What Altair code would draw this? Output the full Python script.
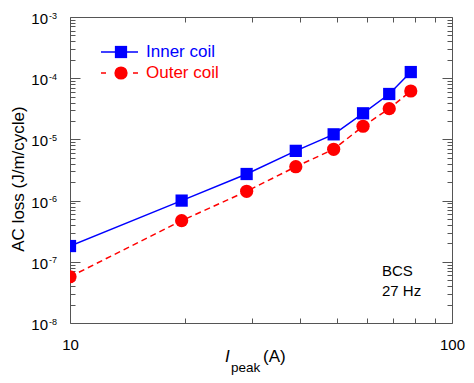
import altair as alt
import pandas as pd

# ---- data ----
current = [10, 19.6, 29, 39, 49, 58.5, 68.5, 78]
inner_loss = [1.81e-7, 1.0e-6, 2.72e-6, 6.5e-6, 1.21e-5, 2.67e-5, 5.52e-5, 1.26e-4]
outer_loss = [5.7e-8, 4.7e-7, 1.42e-6, 3.58e-6, 6.9e-6, 1.64e-5, 3.18e-5, 6.18e-5]

y_decades = [1e-8, 1e-7, 1e-6, 1e-5, 1e-4, 1e-3]
y_exponents = ['-8', '-7', '-6', '-5', '-4', '-3']
y_minor = [k * 10.0 ** e for e in range(-8, -3) for k in range(2, 10)]
x_labels = [10, 100]
x_minor = [20, 30, 40, 50, 60, 70, 80, 90]

legend_labels = ['Inner coil', 'Outer coil']
note_lines = ['BCS', '27 Hz']

FONT = 'Liberation Sans'
GRAY = '#555555'
BLUE = '#0000FF'
RED = '#FF0000'
W, H = 382, 306
SQ, CI = 150, 175

inner_df = pd.DataFrame({'current': current, 'loss': inner_loss})
outer_df = pd.DataFrame({'current': current, 'loss': outer_loss})
dec_df = pd.DataFrame({'val': y_decades, 'exp': y_exponents})

xs = alt.Scale(type='log', domain=[10, 100], nice=False)
ys = alt.Scale(type='log', domain=[1e-8, 1e-3], nice=False)


def tick_axis(orient, offset, values, size):
    return alt.Axis(orient=orient, offset=offset, values=values, tickSize=size,
                    tickColor=GRAY, tickWidth=1, labels=False, domain=False,
                    grid=False, title=None)


def tick_layer(xaxis, yaxis):
    return alt.Chart(inner_df).mark_point(opacity=0).encode(
        x=alt.X('current:Q', scale=xs, axis=xaxis),
        y=alt.Y('loss:Q', scale=ys, axis=yaxis),
    )


x_label_axis = alt.Axis(orient='bottom', values=x_labels, ticks=False, tickSize=0,
                        domain=False, grid=False, title=None, labelFontSize=15,
                        labelFont=FONT, labelColor='black', labelPadding=14,
                        labelFlush=False, labelOverlap=False, format='d')

ticks1 = tick_layer(tick_axis('top', -H, x_minor, 5), tick_axis('right', -W, y_decades, 10))
ticks2 = tick_layer(tick_axis('bottom', -H, x_minor, 5), tick_axis('right', -W, y_minor, 5))
ticks3 = tick_layer(x_label_axis, tick_axis('left', -W, y_decades, 10))
ticks4 = tick_layer(None, tick_axis('left', -W, y_minor, 5))

enc_in = dict(x=alt.X('current:Q', scale=xs, axis=None),
              y=alt.Y('loss:Q', scale=ys, axis=None))

inner_line = alt.Chart(inner_df).mark_line(color=BLUE, strokeWidth=1.5, clip=True).encode(**enc_in)
inner_pts = alt.Chart(inner_df).mark_point(shape='square', filled=True, size=SQ,
                                           color=BLUE, opacity=1, clip=True).encode(**enc_in)
outer_line = alt.Chart(outer_df).mark_line(color=RED, strokeWidth=1.5, clip=True,
                                           strokeDash=[6, 4]).encode(**enc_in)
outer_pts = alt.Chart(outer_df).mark_point(shape='circle', filled=True, size=CI,
                                           color=RED, opacity=1, clip=True).encode(**enc_in)

# y tick labels 10^n
ylab_base = alt.Chart(dec_df).mark_text(align='right', baseline='alphabetic', fontSize=15,
                                        font=FONT, color='black', dy=7).encode(
    x=alt.value(-22), y=alt.Y('val:Q', scale=ys, axis=None), text=alt.value('10'))
ylab_exp = alt.Chart(dec_df).mark_text(align='left', baseline='alphabetic', fontSize=9,
                                       font=FONT, color='black', dy=1.5).encode(
    x=alt.value(-21), y=alt.Y('val:Q', scale=ys, axis=None), text='exp:N')

one = pd.DataFrame({'k': [0]})


def txt(s, x, y, size, color='black', style='normal', align='left', baseline='middle', angle=0):
    return alt.Chart(one).mark_text(text=s, align=align, baseline=baseline, fontSize=size,
                                    font=FONT, color=color, fontStyle=style, angle=angle).encode(
        x=alt.value(x), y=alt.value(y))


# legend
leg_in_line = alt.Chart(one).mark_rule(color=BLUE, strokeWidth=1.5).encode(
    x=alt.value(31), x2=alt.value(68), y=alt.value(35))
leg_in_pt = alt.Chart(one).mark_point(shape='square', filled=True, size=SQ, color=BLUE,
                                      opacity=1).encode(x=alt.value(51), y=alt.value(35))
leg_out_line = alt.Chart(one).mark_rule(color=RED, strokeWidth=1.5, strokeDash=[5, 27]).encode(
    x=alt.value(31), x2=alt.value(68), y=alt.value(56))
leg_out_pt = alt.Chart(one).mark_point(shape='circle', filled=True, size=CI, color=RED,
                                       opacity=1).encode(x=alt.value(51), y=alt.value(56))
leg_in_txt = txt(legend_labels[0], 76, 35, 17, BLUE)
leg_out_txt = txt(legend_labels[1], 76, 56, 17, RED)

note1 = txt(note_lines[0], 312, 253.5, 15)
note2 = txt(note_lines[1], 312, 274, 15)

# axis titles
xt_I = txt('I', 155, 345, 17, style='italic', baseline='alphabetic')
xt_peak = txt('peak', 161, 354.5, 13.5, baseline='alphabetic')
xt_A = txt('(A)', 193, 345, 17, baseline='alphabetic')
yt = txt('AC loss (J/m/cycle)', -46.5, 162, 17, align='center', baseline='alphabetic', angle=270)

chart = alt.layer(
    ticks1, ticks2, ticks3, ticks4,
    inner_line, outer_line, inner_pts, outer_pts,
    ylab_base, ylab_exp,
    leg_in_line, leg_out_line, leg_in_pt, leg_out_pt, leg_in_txt, leg_out_txt,
    note1, note2, xt_I, xt_peak, xt_A, yt,
).resolve_axis(x='independent', y='independent').properties(
    width=W, height=H,
    autosize=alt.AutoSizeParams(type='none'),
    padding={'left': 62, 'top': 9, 'right': 14, 'bottom': 52},
    background='white',
).configure_view(stroke=GRAY, strokeWidth=1)

chart.save('out.html', embed_options={'renderer': 'svg', 'actions': False})
